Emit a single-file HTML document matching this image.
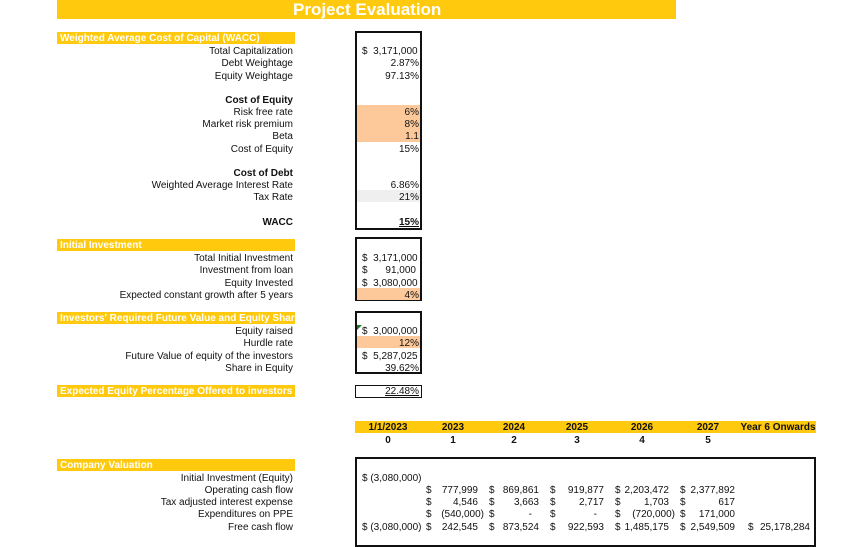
<!DOCTYPE html>
<html><head><meta charset="utf-8"><style>
body{margin:0;width:850px;height:535px;background:#fff;overflow:hidden;position:relative;font-family:"Liberation Sans",Arial,sans-serif;font-size:10px;color:#111}
div{position:absolute;white-space:nowrap}
.l,.v,.d,.r,.c{padding-top:2px}
.l{right:557px;text-align:right;line-height:12px}
.b{font-weight:bold}
.h{left:57px;width:238px;height:12px;background:#ffc90e;color:#fff;font-weight:bold;line-height:14px;padding-left:3px;box-sizing:border-box;overflow:hidden}
.box{left:355px;width:67px;border:2px solid #111;box-sizing:border-box}
.v{right:431px;text-align:right;line-height:12px}
.d{left:362px;line-height:12px}
.o{background:#fdc99b;left:357px;width:63px;height:12px}
.c{text-align:center;font-weight:bold;line-height:12px;width:60px}
.r{text-align:right;line-height:12px}
</style></head><body>
<div style="left:57px;top:0;width:619px;height:19px;background:#ffc90e"></div>
<div style="left:293px;top:-1px;color:#fff;font-weight:bold;font-size:17px;line-height:21px">Project Evaluation</div>

<div class="h" style="top:32px">Weighted Average Cost of Capital (WACC)</div>
<div class="box" style="top:31px;height:199px"></div>
<div class="o" style="top:105px;height:37px"></div>
<div style="left:357px;top:190px;width:63px;height:12px;background:#efefef"></div>
<div class="l" style="top:44px">Total Capitalization</div>
<div class="l" style="top:56px">Debt Weightage</div>
<div class="l" style="top:69px">Equity Weightage</div>
<div class="l b" style="top:93px">Cost of Equity</div>
<div class="l" style="top:105px">Risk free rate</div>
<div class="l" style="top:117px">Market risk premium</div>
<div class="l" style="top:129px">Beta</div>
<div class="l" style="top:142px">Cost of Equity</div>
<div class="l b" style="top:166px">Cost of Debt</div>
<div class="l" style="top:178px">Weighted Average Interest Rate</div>
<div class="l" style="top:190px">Tax Rate</div>
<div class="l b" style="top:215px">WACC</div>
<div class="d" style="top:44px">$&nbsp; 3,171,000</div>
<div class="v" style="top:56px">2.87%</div>
<div class="v" style="top:69px">97.13%</div>
<div class="v" style="top:105px">6%</div>
<div class="v" style="top:117px">8%</div>
<div class="v" style="top:129px">1.1</div>
<div class="v" style="top:142px">15%</div>
<div class="v" style="top:178px">6.86%</div>
<div class="v" style="top:190px">21%</div>
<div class="v b" style="top:215px;text-decoration:underline">15%</div>

<div class="h" style="top:239px">Initial Investment</div>
<div class="box" style="top:237px;height:64px"></div>
<div class="o" style="top:288px"></div>
<div class="l" style="top:251px">Total Initial Investment</div>
<div class="l" style="top:263px">Investment from loan</div>
<div class="l" style="top:276px">Equity Invested</div>
<div class="l" style="top:288px">Expected constant growth after 5 years</div>
<div class="d" style="top:251px">$&nbsp; 3,171,000</div>
<div class="d" style="top:263px">$</div><div class="v" style="top:263px;right:434px">91,000</div>
<div class="d" style="top:276px">$&nbsp; 3,080,000</div>
<div class="v" style="top:288px">4%</div>

<div class="h" style="top:312px">Investors' Required Future Value and Equity Share</div>
<div class="box" style="top:311px;height:63px"></div>
<div class="o" style="top:336px"></div>
<div style="left:357px;top:325px;width:0;height:0;border-top:5px solid #1a7a1a;border-right:5px solid transparent"></div>
<div class="l" style="top:324px">Equity raised</div>
<div class="l" style="top:336px">Hurdle rate</div>
<div class="l" style="top:349px">Future Value of equity of the investors</div>
<div class="l" style="top:361px">Share in Equity</div>
<div class="d" style="top:324px">$&nbsp; 3,000,000</div>
<div class="v" style="top:336px">12%</div>
<div class="d" style="top:349px">$&nbsp; 5,287,025</div>
<div class="v" style="top:361px">39.62%</div>

<div class="h" style="top:385px">Expected Equity Percentage Offered to investors</div>
<div class="box" style="top:385px;height:13px;border-width:1.5px"></div>
<div class="v" style="top:384px;line-height:12px;text-decoration:underline">22.48%</div>

<div style="left:355px;top:421px;width:461px;height:12px;background:#ffc90e"></div>
<div class="c" style="left:358px;top:420px">1/1/2023</div>
<div class="c" style="left:423px;top:420px">2023</div>
<div class="c" style="left:484px;top:420px">2024</div>
<div class="c" style="left:547px;top:420px">2025</div>
<div class="c" style="left:612px;top:420px">2026</div>
<div class="c" style="left:678px;top:420px">2027</div>
<div class="c" style="left:738px;top:420px;width:80px">Year 6 Onwards</div>
<div class="c" style="left:358px;top:433px">0</div>
<div class="c" style="left:423px;top:433px">1</div>
<div class="c" style="left:484px;top:433px">2</div>
<div class="c" style="left:547px;top:433px">3</div>
<div class="c" style="left:612px;top:433px">4</div>
<div class="c" style="left:678px;top:433px">5</div>

<div class="h" style="top:459px">Company Valuation</div>
<div style="left:355px;top:457px;width:461px;height:90px;border:2px solid #111;box-sizing:border-box"></div>
<div class="l" style="top:471px">Initial Investment (Equity)</div>
<div class="l" style="top:483px">Operating cash flow</div>
<div class="l" style="top:495px">Tax adjusted interest expense</div>
<div class="l" style="top:507px">Expenditures on PPE</div>
<div class="l" style="top:520px">Free cash flow</div>
<div class="d" style="top:471px">$ (3,080,000)</div>
<div class="d" style="top:520px">$ (3,080,000)</div>

<div class="d" style="left:426px;top:483px">$</div><div class="r" style="right:372px;top:483px">777,999</div>
<div class="d" style="left:489px;top:483px">$</div><div class="r" style="right:311px;top:483px">869,861</div>
<div class="d" style="left:550px;top:483px">$</div><div class="r" style="right:246px;top:483px">919,877</div>
<div class="d" style="left:615px;top:483px">$</div><div class="r" style="right:181px;top:483px">2,203,472</div>
<div class="d" style="left:680px;top:483px">$</div><div class="r" style="right:115px;top:483px">2,377,892</div>

<div class="d" style="left:426px;top:495px">$</div><div class="r" style="right:372px;top:495px">4,546</div>
<div class="d" style="left:489px;top:495px">$</div><div class="r" style="right:311px;top:495px">3,663</div>
<div class="d" style="left:550px;top:495px">$</div><div class="r" style="right:246px;top:495px">2,717</div>
<div class="d" style="left:615px;top:495px">$</div><div class="r" style="right:181px;top:495px">1,703</div>
<div class="d" style="left:680px;top:495px">$</div><div class="r" style="right:115px;top:495px">617</div>

<div class="d" style="left:426px;top:507px">$</div><div class="r" style="right:366px;top:507px">(540,000)</div>
<div class="d" style="left:489px;top:507px">$</div><div class="r" style="right:318px;top:507px">-</div>
<div class="d" style="left:550px;top:507px">$</div><div class="r" style="right:253px;top:507px">-</div>
<div class="d" style="left:615px;top:507px">$</div><div class="r" style="right:175px;top:507px">(720,000)</div>
<div class="d" style="left:680px;top:507px">$</div><div class="r" style="right:115px;top:507px">171,000</div>

<div class="d" style="left:426px;top:520px">$</div><div class="r" style="right:372px;top:520px">242,545</div>
<div class="d" style="left:489px;top:520px">$</div><div class="r" style="right:311px;top:520px">873,524</div>
<div class="d" style="left:550px;top:520px">$</div><div class="r" style="right:246px;top:520px">922,593</div>
<div class="d" style="left:615px;top:520px">$</div><div class="r" style="right:181px;top:520px">1,485,175</div>
<div class="d" style="left:680px;top:520px">$</div><div class="r" style="right:115px;top:520px">2,549,509</div>
<div class="d" style="left:748px;top:520px">$</div><div class="r" style="right:40px;top:520px">25,178,284</div>
</body></html>
